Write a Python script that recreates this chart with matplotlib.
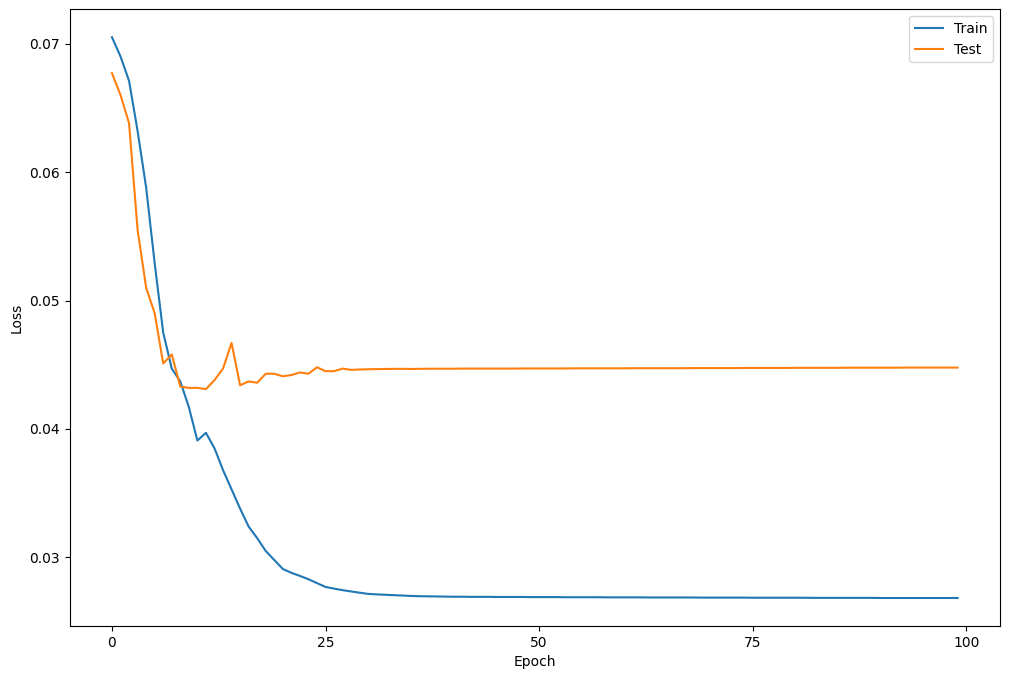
import matplotlib.pyplot as plt

# perdida por epoca
train_loss = [
    0.0705, 0.0690, 0.0671, 0.0632, 0.0588, 0.0529, 0.0475, 0.0447, 0.0437, 0.0417,
    0.0391, 0.0397, 0.0385, 0.0368, 0.0353, 0.0338, 0.0324, 0.0315, 0.0305, 0.0298,
    0.0291, 0.0288, 0.02856, 0.0283, 0.0280, 0.0277, 0.02757, 0.02745, 0.02735, 0.02725,
    0.02716, 0.02712, 0.02709, 0.02706, 0.02703, 0.02700, 0.02698, 0.02697, 0.02696, 0.02695,
    0.02694, 0.02694, 0.02693, 0.02693, 0.02693, 0.02692, 0.02692, 0.02692, 0.02692, 0.02691,
    0.02691, 0.02691, 0.02691, 0.02690, 0.02690, 0.02690, 0.02690, 0.02690, 0.02689, 0.02689,
    0.02689, 0.02689, 0.02689, 0.02688, 0.02688, 0.02688, 0.02688, 0.02688, 0.02688, 0.02687,
    0.02687, 0.02687, 0.02687, 0.02687, 0.02687, 0.02686, 0.02686, 0.02686, 0.02686, 0.02686,
    0.02686, 0.02686, 0.02685, 0.02685, 0.02685, 0.02685, 0.02685, 0.02685, 0.02685, 0.02685,
    0.02684, 0.02684, 0.02684, 0.02684, 0.02684, 0.02684, 0.02684, 0.02684, 0.02684, 0.02684,
]

test_loss = [
    0.0677, 0.0660, 0.0638, 0.0555, 0.0510, 0.0490, 0.0451, 0.0458, 0.0433, 0.0432,
    0.0432, 0.0431, 0.0438, 0.0447, 0.0467, 0.0434, 0.0437, 0.0436, 0.0443, 0.0443,
    0.0441, 0.0442, 0.0444, 0.0443, 0.0448, 0.0445, 0.0445, 0.0447, 0.0446, 0.04463,
    0.04465, 0.04466, 0.04467, 0.04468, 0.04468, 0.04467, 0.04468, 0.04469, 0.04469, 0.04469,
    0.04469, 0.04470, 0.04470, 0.04470, 0.04470, 0.04470, 0.04470, 0.04470, 0.04471, 0.04471,
    0.04471, 0.04471, 0.04471, 0.04471, 0.04472, 0.04472, 0.04472, 0.04472, 0.04472, 0.04472,
    0.04472, 0.04473, 0.04473, 0.04473, 0.04473, 0.04473, 0.04473, 0.04473, 0.04474, 0.04474,
    0.04474, 0.04474, 0.04474, 0.04474, 0.04475, 0.04475, 0.04475, 0.04475, 0.04475, 0.04475,
    0.04476, 0.04476, 0.04476, 0.04476, 0.04476, 0.04476, 0.04477, 0.04477, 0.04477, 0.04477,
    0.04477, 0.04477, 0.04477, 0.04478, 0.04478, 0.04478, 0.04478, 0.04478, 0.04478, 0.04478,
]

epocas = list(range(len(train_loss)))

fig = plt.figure(figsize=(10.1, 6.79), dpi=100)
ax = fig.add_axes([0.069, 0.078, 0.921, 0.9085])
ax.plot(epocas, train_loss, label="Train")
ax.plot(epocas, test_loss, label="Test")
ax.set_xticks([0, 25, 50, 75, 100])
ax.set_xlabel('Epoch')
ax.set_ylabel('Loss')
ax.legend(loc='upper right')
fig.savefig('out.png', dpi=100)
